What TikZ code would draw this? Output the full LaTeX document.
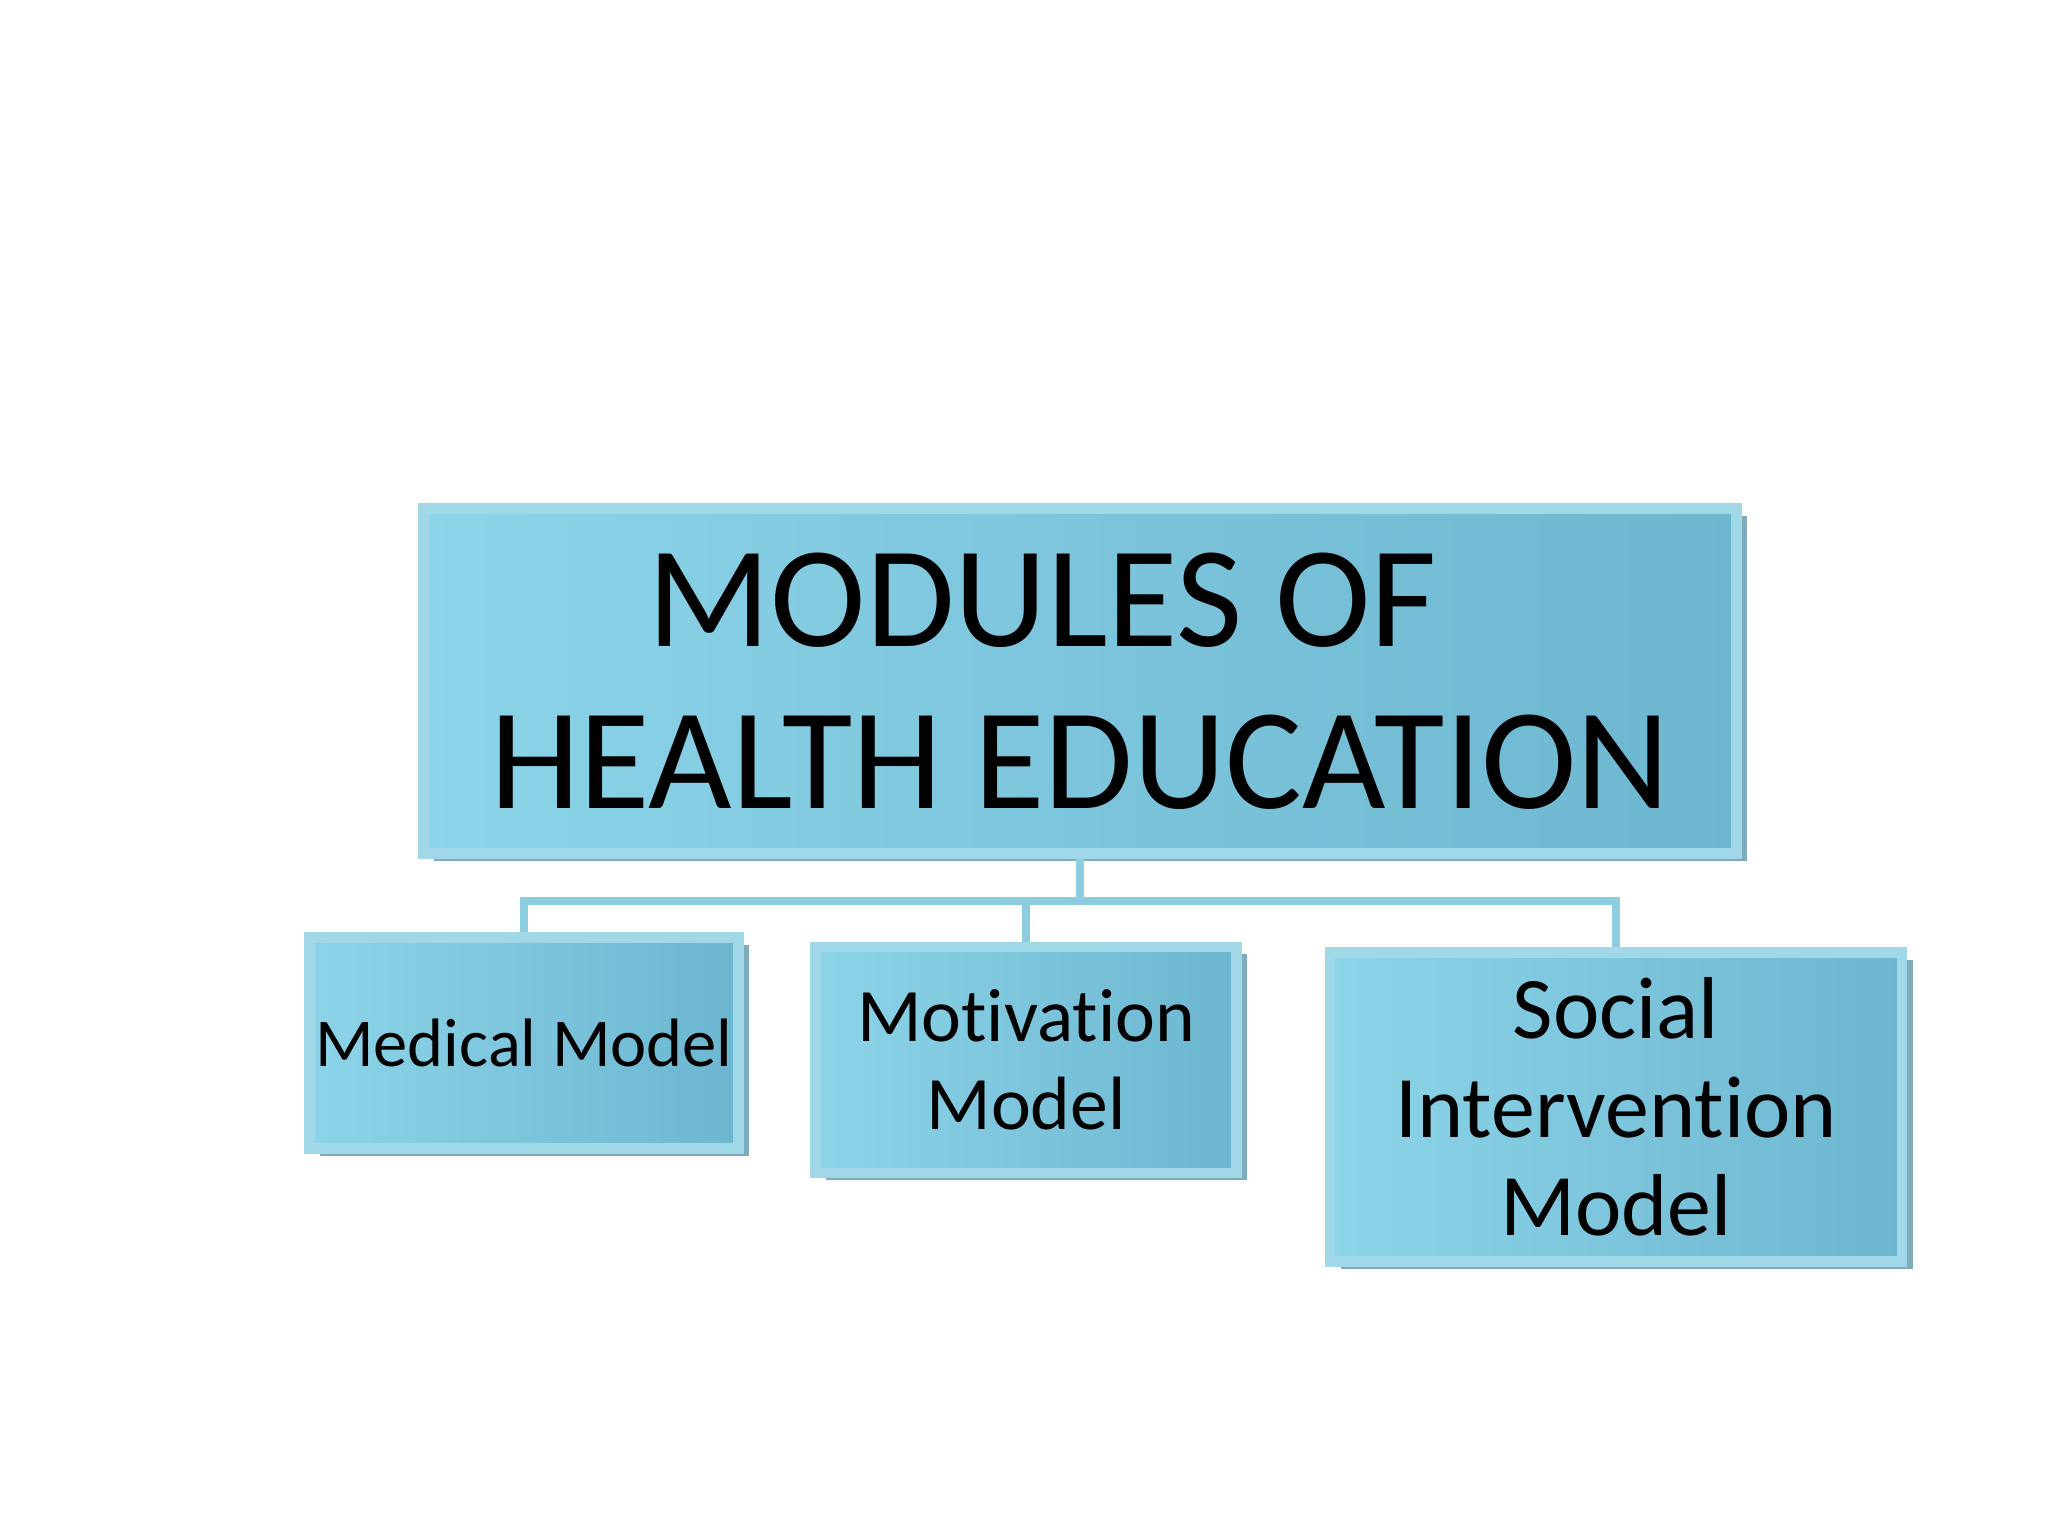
\documentclass[tikz,border=0pt]{standalone}
\usepackage{fontspec}
\setmainfont{Carlito}[Ligatures={NoCommon,NoRare,NoContextual}]
\usetikzlibrary{shadows}

\definecolor{boxleft}{RGB}{140,212,232}
\definecolor{boxright}{RGB}{108,182,208}
\definecolor{boxrim}{RGB}{160,216,232}
\definecolor{boxedge}{RGB}{96,150,170}
\definecolor{linkblue}{RGB}{140,205,224}

\tikzset{
  modbox/.style={rectangle,left color=boxleft,right color=boxright,
    draw=boxrim,line width=3pt,inner sep=0pt,align=center,
    drop shadow={shadow xshift=3pt,shadow yshift=-2pt,fill=boxedge,opacity=0.8}},
  link/.style={linkblue,line width=2.2pt}
}

\begin{document}
\begin{tikzpicture}
  \fill[white] (0,0) rectangle (20.48,15.36);
  \useasboundingbox (0,0) rectangle (20.48,15.36);
  \node[modbox,minimum width=13.13cm,minimum height=3.45cm,
    font=\fontsize{41}{46}\selectfont] at (10.80,8.55) (top)
    {MODULES OF\hspace*{0.75cm}\\HEALTH EDUCATION};
  \node[modbox,minimum width=4.29cm,minimum height=2.11cm,
    font=\fontsize{19.5}{24}\selectfont] at (5.24,4.93) (med)
    {Medical Model};
  \node[modbox,minimum width=4.21cm,minimum height=2.26cm,
    font=\fontsize{21.5}{25}\selectfont] at (10.26,4.76) (mot)
    {Motivation\\Model};
  \node[modbox,minimum width=5.72cm,minimum height=3.09cm,
    font=\fontsize{25}{28}\selectfont] at (16.16,4.29) (soc)
    {Social\\Intervention\\Model};
  % tree links
  \draw[link] (top.south) -- ++(0,-0.42) coordinate (bus);
  \draw[link] (med.north) |- (bus) -| (soc.north);
  \draw[link] (mot.north) -- (mot.north |- bus);
\end{tikzpicture}
\end{document}
